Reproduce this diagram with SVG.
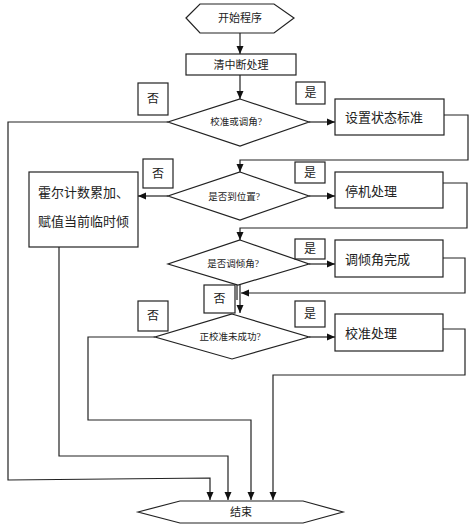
<svg xmlns="http://www.w3.org/2000/svg" width="474" height="527" viewBox="0 0 474 527">
<defs>
<marker id="arr" markerWidth="10" markerHeight="10" refX="9" refY="5" orient="auto" markerUnits="userSpaceOnUse">
<path d="M1,1.5 L9,5 L1,8.5 Z" fill="#111"/>
</marker>
<style>
.s{fill:#fff;stroke:#222;stroke-width:1.2}
.c{fill:none;stroke:#222;stroke-width:1.2;marker-end:url(#arr)}
.l{fill:none;stroke:#222;stroke-width:1.2}
text{font-family:"Liberation Serif","Noto Sans CJK SC",serif;fill:#222;dominant-baseline:central}
.m{text-anchor:middle}
.t11{font-size:11px}
.t10{font-size:9.5px}
.t13{font-size:13px}
.t12{font-size:12px}
</style>
</defs>
<rect width="474" height="527" fill="#fff"/>
<g id="connectors">
<path class="c" d="M240,33 L240,54"/>
<path class="c" d="M240,75 L240,99"/>
<path class="c" d="M309,122 L335,122"/>
<path class="c" d="M444,115 L468,115 L468,160 L240,160 L240,172"/>
<path class="c" d="M168,122 L8,122 L8,480 L210,478 L210,500"/>
<path class="c" d="M309,196 L335,196"/>
<path class="c" d="M168,196 L138,196"/>
<path class="c" d="M443,183 L467,183 L467,228 L240,228 L240,240"/>
<path class="c" d="M59,247 L59,456 L228,456 L228,500"/>
<path class="c" d="M309,264 L335,264"/>
<path class="c" d="M443,258 L465,258 L465,293 L241,293"/>
<path class="l" d="M237,285 L237,300"/>
<path class="c" d="M240,285 L240,313"/>
<path class="c" d="M309,337 L335,337"/>
<path class="c" d="M443,329 L465,329 L465,375 L273,375 L273,500"/>
<path class="c" d="M155,337 L88,337 L88,420 L251,420 L251,500"/>
</g>
<g id="start">
<polygon class="s" points="186,18 200,4 274,4 294,18 274,33 200,33"/>
<text class="m t11" x="240" y="18">开始程序</text>
</g>
<g id="clear">
<rect class="s" x="186" y="54" width="110" height="21"/>
<text class="m t11" x="241" y="64.5">清中断处理</text>
</g>
<g id="d1">
<polygon class="s" points="240,99 309,122 240,146 168,122"/>
<text class="m t10" x="236" y="122">校准或调角?</text>
</g>
<g id="no1"><rect class="s" x="138" y="83" width="30" height="32"/><text class="m t12" x="153" y="99">否</text></g>
<g id="yes1"><rect class="s" x="296" y="82" width="29" height="22"/><text class="m t12" x="310.5" y="93">是</text></g>
<g id="setstate">
<rect class="s" x="335" y="99" width="109" height="36"/>
<text class="t13" x="345" y="117">设置状态标准</text>
</g>
<g id="d2">
<polygon class="s" points="240,172 309,196 240,220 168,196"/>
<text class="m t10" x="234" y="197">是否到位置?</text>
</g>
<g id="no2"><rect class="s" x="143" y="159" width="30" height="29"/><text class="m t12" x="158" y="173.5">否</text></g>
<g id="yes2"><rect class="s" x="295" y="162" width="30" height="21"/><text class="m t12" x="310" y="172.5">是</text></g>
<g id="stop">
<rect class="s" x="335" y="172" width="108" height="36"/>
<text class="t13" x="345" y="191">停机处理</text>
</g>
<g id="hall">
<rect class="s" x="29" y="172" width="109" height="75"/>
<text class="t13" x="38" y="192">霍尔计数累加、</text>
<text class="t13" x="38" y="221">赋值当前临时倾</text>
</g>
<g id="d3">
<polygon class="s" points="240,240 309,264 238,285 168,264"/>
<text class="m t10" x="233" y="264">是否调倾角?</text>
</g>
<g id="yes3"><rect class="s" x="295" y="239" width="30" height="20"/><text class="m t12" x="310" y="249">是</text></g>
<g id="tiltdone">
<rect class="s" x="335" y="240" width="108" height="37"/>
<text class="t13" x="345" y="259">调倾角完成</text>
</g>
<g id="no3"><rect class="s" x="204" y="285" width="31" height="28"/><text class="m t12" x="219.5" y="299">否</text></g>
<g id="d4">
<polygon class="s" points="232,314 309,337 232,359 155,337"/>
<text class="m t10" x="230" y="337">正校准未成功?</text>
</g>
<g id="no4"><rect class="s" x="138" y="301" width="30" height="30"/><text class="m t12" x="153" y="316">否</text></g>
<g id="yes4"><rect class="s" x="295" y="301" width="30" height="26"/><text class="m t12" x="310" y="314">是</text></g>
<g id="calib">
<rect class="s" x="335" y="314" width="108" height="37"/>
<text class="t13" x="345" y="333">校准处理</text>
</g>
<g id="end">
<polygon class="s" points="138,512 180,501 303,501 343,512 303,523 180,523"/>
<text class="m t11" x="241" y="512">结束</text>
</g>
</svg>
